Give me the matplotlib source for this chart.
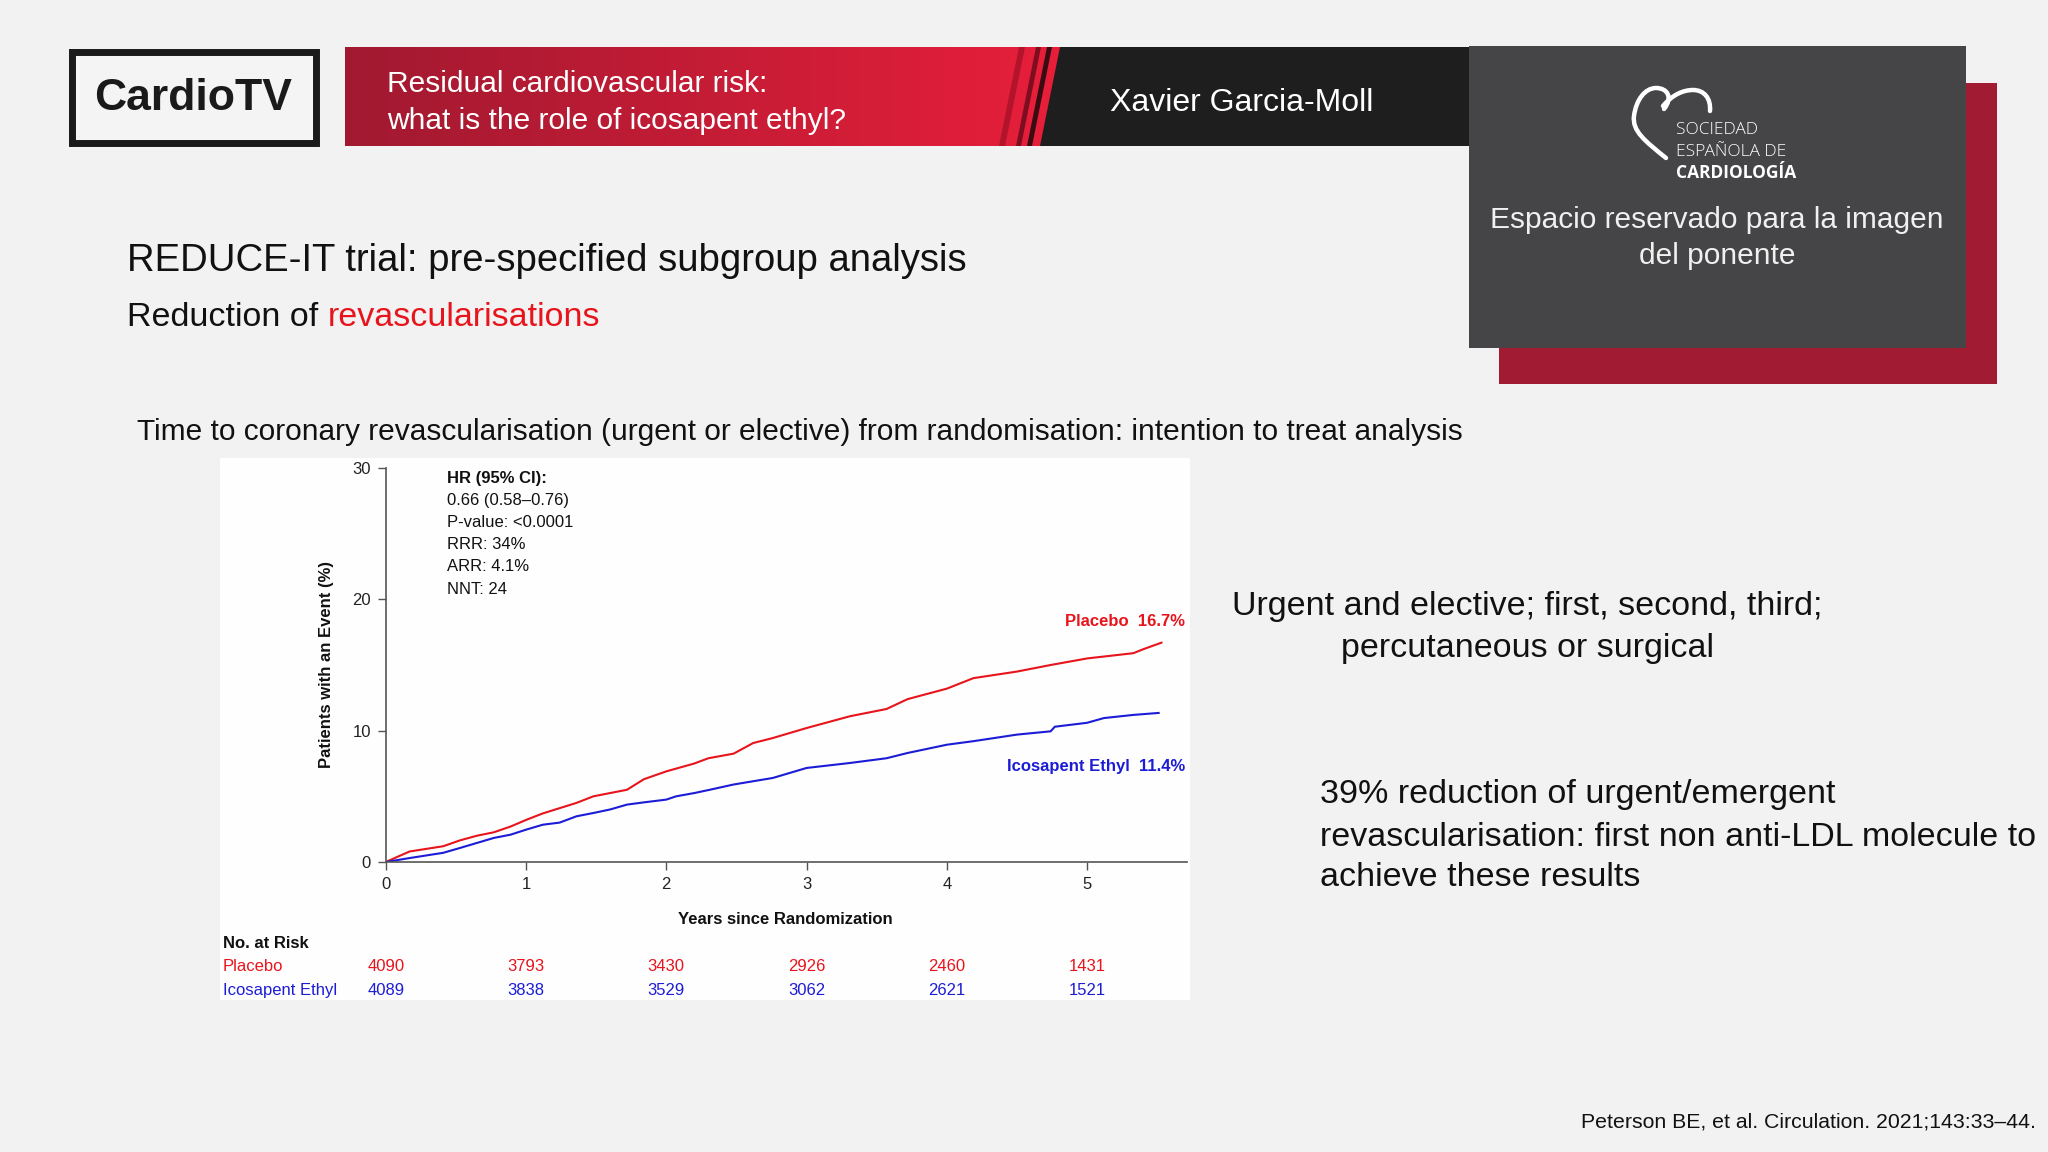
import numpy as np
import matplotlib
matplotlib.use("Agg")
import matplotlib.pyplot as plt
from matplotlib.patches import Rectangle, Polygon, PathPatch
from matplotlib.path import Path
import matplotlib.transforms as mtransforms

# ---------------- data ----------------
years_placebo = [0, 0.17, 0.29, 0.41, 0.53, 0.65, 0.77, 0.89, 1.0, 1.12, 1.24, 1.36,
                 1.48, 1.6, 1.72, 1.84, 2.0, 2.2, 2.3, 2.48, 2.62, 2.76, 3.0, 3.31,
                 3.57, 3.72, 4.0, 4.19, 4.5, 4.74, 5.0, 5.33, 5.4, 5.53]
pct_placebo = [0, 0.8, 1.0, 1.2, 1.65, 2.0, 2.26, 2.7, 3.2, 3.7, 4.1, 4.5,
               5.0, 5.25, 5.5, 6.3, 6.9, 7.5, 7.9, 8.25, 9.06, 9.44, 10.2, 11.1,
               11.65, 12.4, 13.2, 14.0, 14.5, 15.0, 15.5, 15.9, 16.2, 16.7]
years_ice = [0, 0.17, 0.41, 0.53, 0.65, 0.77, 0.89, 1.0, 1.12, 1.24, 1.36, 1.48,
             1.6, 1.72, 1.84, 2.0, 2.07, 2.2, 2.31, 2.48, 2.76, 3.0, 3.31, 3.57,
             3.72, 4.0, 4.19, 4.5, 4.74, 4.77, 5.0, 5.12, 5.33, 5.51]
pct_ice = [0, 0.3, 0.7, 1.07, 1.45, 1.83, 2.08, 2.46, 2.84, 3.0, 3.48, 3.73,
           4.0, 4.37, 4.54, 4.75, 5.0, 5.25, 5.5, 5.9, 6.4, 7.16, 7.54, 7.9,
           8.3, 8.93, 9.2, 9.7, 9.95, 10.3, 10.6, 10.96, 11.2, 11.35]
risk_years = [0, 1, 2, 3, 4, 5]
risk_placebo = [4090, 3793, 3430, 2926, 2460, 1431]
risk_ice = [4089, 3838, 3529, 3062, 2621, 1521]
x_ticks = [0, 1, 2, 3, 4, 5]
y_ticks = [0, 10, 20, 30]
stats_header = "HR (95% CI):"
stats_lines = ["0.66 (0.58\u20130.76)", "P-value: <0.0001", "RRR: 34%", "ARR: 4.1%", "NNT: 24"]
label_placebo = "Placebo  16.7%"
label_ice = "Icosapent Ethyl  11.4%"

RED = '#e8141c'
BLUE = '#1c1cd6'
DARK = '#111111'

W, H = 2048, 1152
plt.rcParams['font.family'] = ['Liberation Sans', 'DejaVu Sans']
fig = plt.figure(figsize=(20.48, 11.52), dpi=100, facecolor='#f2f2f3')
bg = fig.add_axes([0, 0, 1, 1])
bg.set_xlim(0, W)
bg.set_ylim(H, 0)
bg.axis('off')


def T(x, y, s, dy=3, **kw):
    kw.setdefault('va', 'center')
    return bg.text(x, y + dy, s, **kw)


# ---------------- header ----------------
bg.add_patch(Rectangle((71.5, 51.5), 244, 91, facecolor='#f4f4f4', edgecolor='#1a1a1a', lw=5))
T(193, 97, "CardioTV", dy=2, fontsize=32, fontweight='bold', color='#1a1a1a', ha='center')

grad = np.linspace(0, 1, 400)
c0 = np.array([0.63, 0.10, 0.19])
c1 = np.array([0.91, 0.12, 0.23])
img = c0[None, None, :] + (c1 - c0)[None, None, :] * grad[None, :, None]
bg.imshow(img, extent=(345, 1062, 146, 47), aspect='auto', zorder=1)
bg.add_patch(Polygon([(1060, 47), (1470, 47), (1470, 146), (1040, 146)],
                     closed=True, facecolor='#1e1e1e', edgecolor='none', zorder=2))
for xt, w, col in [(1019, 6, '#b3132b'), (1036, 5, '#7e0e1f'), (1047, 5, '#3a0c12')]:
    bg.add_patch(Polygon([(xt, 47), (xt + w, 47), (xt + w - 20, 146), (xt - 20, 146)],
                         closed=True, facecolor=col, edgecolor='none', zorder=2))
T(387, 81, "Residual cardiovascular risk:", fontsize=21.5, color='white', ha='left', zorder=3)
T(387, 118, "what is the role of icosapent ethyl?", fontsize=21.5, color='white', ha='left', zorder=3)
T(1110, 99, "Xavier Garcia-Moll", dy=4, fontsize=23, color='white', ha='left', zorder=3)

bg.add_patch(Rectangle((1499, 83), 498, 301, facecolor='#a11c33', edgecolor='none', zorder=2))
bg.add_patch(Rectangle((1469, 46), 497, 302, facecolor='#454446', edgecolor='none', zorder=3))

verts = [(1666, 158), (1645, 141), (1632, 131), (1634, 116),
         (1636, 100), (1645, 88), (1656, 88),
         (1668, 88), (1673, 98), (1664, 109)]
codes = [Path.MOVETO, Path.CURVE4, Path.CURVE4, Path.CURVE4,
         Path.CURVE4, Path.CURVE4, Path.CURVE4,
         Path.CURVE4, Path.CURVE4, Path.CURVE4]
bg.add_patch(PathPatch(Path(verts, codes), facecolor='none', edgecolor='white',
                       lw=3.2, capstyle='round', zorder=4))
verts2 = [(1663, 106), (1672, 95), (1683, 90), (1693, 90),
          (1704, 90), (1711, 98), (1710, 111)]
codes2 = [Path.MOVETO, Path.CURVE4, Path.CURVE4, Path.CURVE4,
          Path.CURVE4, Path.CURVE4, Path.CURVE4]
bg.add_patch(PathPatch(Path(verts2, codes2), facecolor='none', edgecolor='white',
                       lw=3.2, capstyle='round', zorder=4))
OS = ['Open Sans', 'DejaVu Sans']
T(1676, 128, "SOCIEDAD", dy=1.5, fontsize=12.5, color='white', family=OS,
  fontweight='light', ha='left', zorder=4)
T(1676, 150, "ESPAÑOLA DE", dy=1.5, fontsize=12.5, color='white', family=OS,
  fontweight='light', ha='left', zorder=4)
T(1676, 172, "CARDIOLOGÍA", dy=1.5, fontsize=12.5, color='white', family=OS,
  fontweight='bold', ha='left', zorder=4)
T(1717, 217, "Espacio reservado para la imagen", fontsize=21.5, color='#f0f0f0',
  ha='center', zorder=4)
T(1717, 253, "del ponente", fontsize=21.5, color='#f0f0f0', ha='center', zorder=4)

# ---------------- slide titles ----------------
T(127, 258, "REDUCE-IT trial: pre-specified subgroup analysis", fontsize=27.5,
  color=DARK, ha='left')
t1 = T(127, 315, "Reduction of ", fontsize=24.5, color=DARK, ha='left')
fig.canvas.draw()
ext = t1.get_window_extent()
x_end = ext.x1
T(x_end, 315, "revascularisations", fontsize=24.5, color=RED, ha='left')
T(137, 429, "Time to coronary revascularisation (urgent or elective) from randomisation: "
  "intention to treat analysis", fontsize=21.5, color=DARK, ha='left')

T(1232, 603, "Urgent and elective; first, second, third;", fontsize=24.5, color=DARK, ha='left')
T(1341, 645, "percutaneous or surgical", fontsize=24.5, color=DARK, ha='left')
T(1320, 792, "39% reduction of urgent/emergent", fontsize=24.5, color=DARK, ha='left')
T(1320, 834, "revascularisation: first non anti-LDL molecule to", fontsize=24.5,
  color=DARK, ha='left')
T(1320, 875, "achieve these results", fontsize=24.5, color=DARK, ha='left')

T(2036, 1120, "Peterson BE, et al. Circulation. 2021;143:33\u201344.", dy=1.5, fontsize=15.3,
  color=DARK, ha='right')

# ---------------- chart panel ----------------
bg.add_patch(Rectangle((220, 458), 970, 542, facecolor='#fefefe', edgecolor='none', zorder=0.5))

x0, x1p = 385.7, 1186.7
y0, y1p = 862.0, 468.0
ax = fig.add_axes([x0 / W, 1 - y0 / H, (x1p - x0) / W, (y0 - y1p) / H])
ax.set_facecolor('none')
ax.plot(years_placebo, pct_placebo, color=RED, lw=1.5, solid_joinstyle='miter')
ax.plot(years_ice, pct_ice, color=BLUE, lw=1.5, solid_joinstyle='miter')
ax.set_xlim(0, 5.71)
ax.set_ylim(0, 30)
ax.set_xticks(x_ticks)
ax.set_yticks(y_ticks)
ax.set_xticklabels([str(v) for v in x_ticks])
ax.set_yticklabels([str(v) for v in y_ticks])
for s in ['top', 'right']:
    ax.spines[s].set_visible(False)
for s in ['left', 'bottom']:
    ax.spines[s].set_color('#555555')
    ax.spines[s].set_linewidth(1.2)
ax.tick_params(axis='both', colors='#555555', labelcolor='#222222', labelsize=12,
               length=5.5, width=1.0, pad=5)

T(447, 477, stats_header, dy=2, fontsize=12, fontweight='bold', color=DARK, ha='left')
for i, line in enumerate(stats_lines):
    T(447, 498 + 22.3 * i, line, dy=2, fontsize=12, color=DARK, ha='left')
T(1185, 620, label_placebo, dy=1.5, fontsize=12, fontweight='bold', color=RED, ha='right')
T(1185, 765, label_ice, dy=1.5, fontsize=12, fontweight='bold', color=BLUE, ha='right')
T(327, 665, "Patients with an Event (%)", dy=0, fontsize=12, fontweight='bold', color=DARK,
  rotation=90, ha='center')
T(785, 918, "Years since Randomization", dy=1.5, fontsize=12, fontweight='bold', color=DARK,
  ha='center')

T(223, 942, "No. at Risk", dy=1.5, fontsize=12, fontweight='bold', color=DARK, ha='left')
T(223, 965, "Placebo", dy=1.5, fontsize=12, color=RED, ha='left')
T(223, 989, "Icosapent Ethyl", dy=1.5, fontsize=12, color=BLUE, ha='left')
blend = mtransforms.blended_transform_factory(ax.transData, bg.transData)
for yr, n in zip(risk_years, risk_placebo):
    ax.text(yr, 966.5, str(n), transform=blend, fontsize=12, color=RED, ha='center',
            va='center', clip_on=False)
for yr, n in zip(risk_years, risk_ice):
    ax.text(yr, 990.5, str(n), transform=blend, fontsize=12, color=BLUE, ha='center',
            va='center', clip_on=False)

fig.savefig("out.png", dpi=100, facecolor=fig.get_facecolor())
